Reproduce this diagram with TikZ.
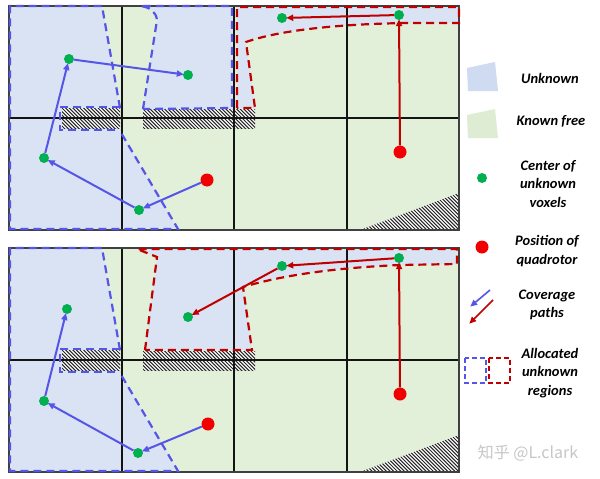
\documentclass[tikz,border=0pt]{standalone}
\usepackage{fontspec}
\setmainfont{Carlito}
\newfontfamily\cjkfont{Noto Sans CJK SC}
\usetikzlibrary{arrows.meta}
\definecolor{unk}{HTML}{DAE3F3}
\definecolor{kfree}{HTML}{E2F0D9}
\definecolor{unkL}{RGB}{206,219,240}
\definecolor{kfreeL}{RGB}{222,236,212}
\definecolor{bpathc}{RGB}{85,85,232}
\definecolor{rpathc}{RGB}{192,0,0}
\definecolor{gdotc}{RGB}{0,176,80}
\definecolor{rdotc}{RGB}{240,0,0}
\definecolor{gridc}{RGB}{20,20,20}
\tikzset{
  gdot/.style={circle,fill=gdotc,inner sep=0pt,minimum size=10pt},
  rdot/.style={circle,fill=rdotc,inner sep=0pt,minimum size=13pt},
  bpath/.style={draw=bpathc,line width=2pt,-{Triangle[length=7pt,width=6pt]},shorten >=-1pt},
  rpath/.style={draw=rpathc,line width=2pt,-{Triangle[length=7pt,width=6pt]},shorten >=-1pt},
  bdash/.style={draw=bpathc,line width=2.2pt,dash pattern=on 8pt off 5pt},
  rdash/.style={draw=rpathc,line width=2.2pt,dash pattern=on 8pt off 5pt},
  hatchline/.style={draw=black!85,line width=1pt},
  gridline/.style={draw=gridc,line width=1.4pt},
  legtext/.style={font=\fontsize{14.5}{18.5}\selectfont\bfseries\itshape,align=center,text=black}
}
\begin{document}
\begin{tikzpicture}[x=1pt,y=-1pt]
\useasboundingbox (0,0) rectangle (600,479);
\fill[white] (0,0) rectangle (600,479);

% ---------- common backgrounds ----------
\foreach \oy in {0,242} {
  \begin{scope}[shift={(0,\oy)}]
    \fill[kfree] (9,6) rectangle (459,230);
    \fill[unk] (10,6) -- (102,6) -- (120,108) -- (120,131) -- (178,229) -- (10,229) -- cycle;
  \end{scope}
}
% ---------- specific fills ----------
% top panel
\fill[unk] (143,109) -- (157,20) .. controls (156,12) and (150,7) .. (140,6) -- (233,6) -- (233,109) -- cycle;
\fill[unk] (237,108) -- (237,7) -- (459,7) -- (459,23) -- (407,23) .. controls (340,24) and (280,30) .. (246,42) -- (255,108) -- cycle;
% bottom panel
\fill[unk] (145,350) -- (157,257) -- (137,249) -- (457,249) -- (457,264) -- (400,265) .. controls (330,268) and (280,276) .. (243,287) -- (252,350) -- cycle;

% ---------- hatches, grid, common dashed ----------
\foreach \oy in {0,242} {
  \begin{scope}[shift={(0,\oy)}]
    \fill[white] (62,108) rectangle (120,128);
    \fill[white] (143,109) rectangle (255,128);
    \begin{scope}
      \clip (62,108) rectangle (120,128);
      \foreach \k in {0,3.6,...,90} \draw[hatchline] (40+\k,104) -- ++(30,30);
    \end{scope}
    \begin{scope}
      \clip (143,109) rectangle (255,128);
      \foreach \k in {0,3.6,...,140} \draw[hatchline] (120+\k,104) -- ++(30,30);
    \end{scope}
    \begin{scope}
      \clip (360,230) -- (459,230) -- (459,193) -- cycle;
      \fill[white] (360,230) -- (459,230) -- (459,193) -- cycle;
      \foreach \k in {0,3.6,...,150} \draw[hatchline] (320+\k,188) -- ++(50,50);
    \end{scope}
    \draw[gridline] (122,6) -- (122,230);
    \draw[gridline] (234,6) -- (234,230);
    \draw[gridline] (347,6) -- (347,230);
    \draw[gridline] (9,118) -- (459,118);
    \draw[draw=black!75,line width=1.6pt] (9,6) rectangle (459,230);
    \draw[bdash] (120,108) -- (102,6) -- (10,6) -- (10,229) -- (178,229) -- (120,131);
    \draw[bdash] (120,107) -- (60,107) -- (60,130) -- (120,130);
  \end{scope}
}

% ---------- specific dashed outlines ----------
\draw[bdash] (143,109) -- (157,20) .. controls (156,12) and (150,7) .. (140,6) -- (232,6) -- (232,108) -- cycle;
\draw[rdash] (237,108) -- (237,7) -- (459,7) -- (459,23) -- (407,23) .. controls (340,24) and (280,30) .. (246,42) -- (255,108) -- cycle;
\draw[rdash] (145,350) -- (157,257) -- (137,249) -- (457,249) -- (457,264) -- (400,265) .. controls (330,268) and (280,276) .. (243,287) -- (252,350) -- cycle;

% ---------- top panel points and paths ----------
\node[gdot] (ta) at (69,59) {};
\node[gdot] (tb) at (188,75) {};
\node[gdot] (tc) at (44,158) {};
\node[gdot] (td) at (139,210) {};
\node[rdot] (tr) at (207,180) {};
\node[gdot] (te) at (282,18) {};
\node[gdot] (tf) at (399,15) {};
\node[rdot] (ts) at (400,152) {};
\draw[bpath] (tr) -- (td);
\draw[bpath] (td) -- (tc);
\draw[bpath] (tc) -- (ta);
\draw[bpath] (ta) -- (tb);
\draw[rpath] (ts) -- (tf);
\draw[rpath] (tf) -- (te);

% ---------- bottom panel points and paths ----------
\node[gdot] (ba) at (67,309) {};
\node[gdot] (bb) at (188,317) {};
\node[gdot] (bc) at (44,401) {};
\node[gdot] (bd) at (138,453) {};
\node[rdot] (br) at (208,424) {};
\node[gdot] (be) at (282,266) {};
\node[gdot] (bf) at (399,258) {};
\node[rdot] (bs) at (400,394) {};
\draw[bpath] (br) -- (bd);
\draw[bpath] (bd) -- (bc);
\draw[bpath] (bc) -- (ba);
\draw[rpath] (bs) -- (bf);
\draw[rpath] (bf) -- (be);
\draw[rpath] (be) -- (bb);

% ---------- legend ----------
\fill[unkL] (467,68) -- (495,62) -- (498,91) -- (468,91) -- cycle;
\node[legtext] (lunk) at (550,78) {Unknown};
\fill[kfreeL] (467,115) -- (495,109) -- (498,138) -- (468,138) -- cycle;
\node[legtext] (lfree) at (551,121) {Known free};
\node[gdot] (lg) at (482,178) {};
\node[legtext] (lgt) at (548,184) {Center of\\unknown\\voxels};
\node[rdot] (lr) at (482,247) {};
\node[legtext] (lrt) at (547,251) {Position of\\quadrotor};
\coordinate (lb1) at (490,290);
\coordinate (lb2) at (471,306);
\coordinate (lr1) at (493,300);
\coordinate (lr2) at (470,323);
\draw[bpath,line width=1.6pt] (lb1) -- (lb2);
\draw[rpath,line width=1.6pt] (lr1) -- (lr2);
\node[legtext] (lct) at (547,305) {Coverage\\paths};
\draw[bdash,line width=1.6pt,dash pattern=on 5pt off 3pt] (465,358) rectangle (486,383);
\draw[rdash,line width=1.6pt,dash pattern=on 5pt off 3pt] (489,358) rectangle (510,383);
\node[legtext] (lat) at (550,373) {Allocated\\unknown\\regions};
\node[font=\cjkfont\fontsize{16}{18}\selectfont,text=black!22] (wm) at (528,453) {知乎 @L.clark};
\end{tikzpicture}
\end{document}
